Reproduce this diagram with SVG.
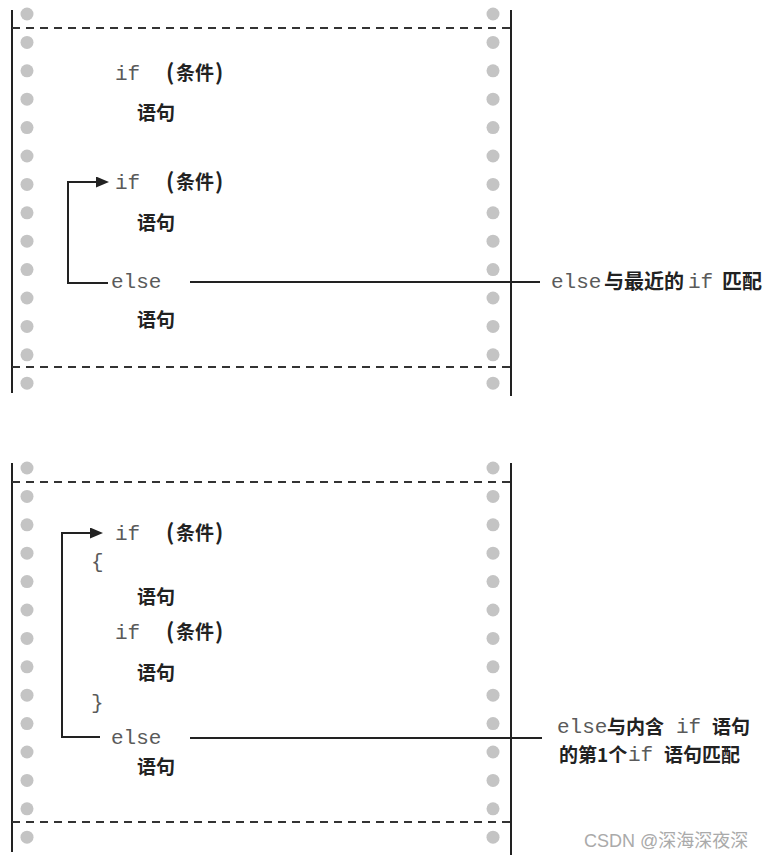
<svg xmlns="http://www.w3.org/2000/svg" width="771" height="858" viewBox="0 0 771 858">
<style>
.frame{stroke:#222;stroke-width:2;fill:none}
.dash{stroke:#333;stroke-width:2;stroke-dasharray:8 6;fill:none}
.dot{fill:#c4c4c4}
.conn{stroke:#222;stroke-width:2;fill:none}
.mono{font-family:"Liberation Mono","DejaVu Sans Mono",monospace;font-size:21px;fill:#5a5a5a}
.cjk{font-family:"Noto Sans CJK SC","Noto Sans",sans-serif;font-size:19px;font-weight:bold;fill:#222}
.par{font-size:22px}
.wm{font-family:"Liberation Sans","Noto Sans CJK SC",sans-serif;font-size:18px;fill:#aaa}
</style>
<defs>
<marker id="arr" markerUnits="userSpaceOnUse" markerWidth="13" markerHeight="11" refX="8" refY="5.5" orient="auto">
<path d="M0,0 L13,5.5 L0,11 z" fill="#222"/>
</marker>
<g id="dotcol">
<circle class="dot" cx="0" cy="0" r="6.5"/><circle class="dot" cx="0" cy="28.4" r="6.5"/><circle class="dot" cx="0" cy="56.8" r="6.5"/><circle class="dot" cx="0" cy="85.2" r="6.5"/><circle class="dot" cx="0" cy="113.6" r="6.5"/><circle class="dot" cx="0" cy="142" r="6.5"/><circle class="dot" cx="0" cy="170.4" r="6.5"/><circle class="dot" cx="0" cy="198.8" r="6.5"/><circle class="dot" cx="0" cy="227.2" r="6.5"/><circle class="dot" cx="0" cy="255.6" r="6.5"/><circle class="dot" cx="0" cy="284" r="6.5"/><circle class="dot" cx="0" cy="312.4" r="6.5"/><circle class="dot" cx="0" cy="340.8" r="6.5"/><circle class="dot" cx="0" cy="369.2" r="6.5"/>
</g>
</defs>
<rect width="771" height="858" fill="#fff"/>

<g id="page-top">
<use href="#dotcol" x="27" y="14"/>
<use href="#dotcol" x="493" y="14"/>
<line class="frame" x1="12" y1="10" x2="12" y2="393"/>
<line class="frame" x1="511" y1="10" x2="511" y2="396"/>
<line class="dash" x1="12" y1="28" x2="511" y2="28"/>
<line class="dash" x1="12" y1="367" x2="511" y2="367"/>
</g>

<g id="page-bottom">
<use href="#dotcol" x="27" y="468"/>
<use href="#dotcol" x="493" y="468"/>
<line class="frame" x1="12" y1="463" x2="12" y2="852"/>
<line class="frame" x1="511" y1="463" x2="511" y2="855"/>
<line class="dash" x1="12" y1="482" x2="511" y2="482"/>
<line class="dash" x1="12" y1="822" x2="511" y2="822"/>
</g>

<g id="t-if1"><text class="mono" x="115" y="80">if</text><text class="cjk" y="80"><tspan class="par" x="166">(</tspan><tspan x="176">条件</tspan><tspan class="par" x="215">)</tspan></text></g>
<g id="t-stmt1"><text class="cjk" x="137" y="120">语句</text></g>
<g id="t-if2"><text class="mono" x="115" y="189">if</text><text class="cjk" y="189"><tspan class="par" x="166">(</tspan><tspan x="176">条件</tspan><tspan class="par" x="215">)</tspan></text></g>
<g id="t-stmt2"><text class="cjk" x="137" y="230">语句</text></g>
<g id="t-else1"><text class="mono" x="111" y="288">else</text></g>
<g id="t-stmt3"><text class="cjk" x="137" y="327">语句</text></g>
<g id="label1"><text y="289"><tspan class="mono" x="551" y="288">else</tspan><tspan class="cjk" x="604" y="289" style="font-size:20px">与最近的</tspan><tspan class="mono" x="688" y="288">if</tspan><tspan class="cjk" x="722" y="289" style="font-size:20px">匹配</tspan></text></g>

<g id="b-if1"><text class="mono" x="115" y="540">if</text><text class="cjk" y="540"><tspan class="par" x="166">(</tspan><tspan x="176">条件</tspan><tspan class="par" x="215">)</tspan></text></g>
<g id="b-open"><text class="mono" x="91" y="568">{</text></g>
<g id="b-stmt1"><text class="cjk" x="137" y="604">语句</text></g>
<g id="b-if2"><text class="mono" x="115" y="639">if</text><text class="cjk" y="639"><tspan class="par" x="166">(</tspan><tspan x="176">条件</tspan><tspan class="par" x="215">)</tspan></text></g>
<g id="b-stmt2"><text class="cjk" x="137" y="680">语句</text></g>
<g id="b-close"><text class="mono" x="91" y="709">}</text></g>
<g id="b-else"><text class="mono" x="111" y="744">else</text></g>
<g id="b-stmt3"><text class="cjk" x="137" y="774">语句</text></g>
<g id="label2">
<text y="734"><tspan class="mono" x="557" y="733">else</tspan><tspan class="cjk" x="607" y="734">与内含</tspan><tspan class="mono" x="676" y="733">if</tspan><tspan class="cjk" x="712" y="734">语句</tspan></text>
<text y="762"><tspan class="cjk" x="559">的第1个</tspan><tspan class="mono" x="628" y="761">if</tspan><tspan class="cjk" x="664" y="762">语句匹配</tspan></text>
</g>
<g id="watermark"><text class="wm" x="584" y="847">CSDN @深海深夜深</text></g>

<g id="connectors">
<path class="conn" d="M108,283 H68 V182 H104" marker-end="url(#arr)"/>
<path class="conn" d="M190,282 H540"/>
<path class="conn" d="M100,737 H62 V533 H98" marker-end="url(#arr)"/>
<path class="conn" d="M190,738 H542"/>
</g>
</svg>
